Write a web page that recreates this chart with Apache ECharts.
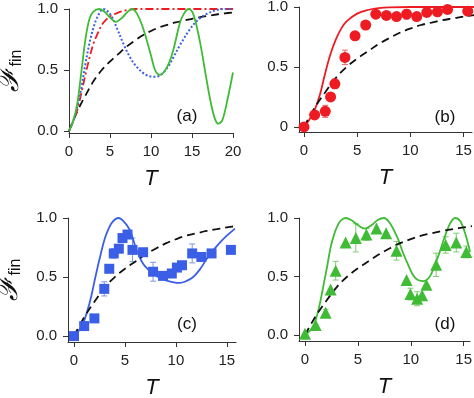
<!DOCTYPE html>
<html>
<head>
<meta charset="utf-8">
<script src="https://cdn.jsdelivr.net/npm/echarts@6/dist/echarts.min.js"></script>
<style>
html, body { margin: 0; padding: 0; background: #fff; }
#chart { width: 474px; height: 398px; }
</style>
</head>
<body>
<div id="chart"></div>
<script>
// ---- data ----
// reference dashed curve (same in every panel)
var dashT = [0, 1, 2, 3, 4, 5, 6, 7, 8, 9, 10, 11, 12, 13, 14, 15, 16, 17, 18, 19, 20];
var dashF = [0, 0.16, 0.29, 0.41, 0.5, 0.57, 0.63, 0.69, 0.74, 0.785, 0.82, 0.85, 0.87, 0.89, 0.905, 0.92, 0.933, 0.945, 0.955, 0.964, 0.972];

// panel (a)
var redAT = [0, 0.5, 1, 1.5, 2, 2.5, 3, 3.5, 4, 4.5, 5, 6, 7, 8, 10, 12, 14, 16, 18, 20];
var redAF = [0, 0.08, 0.17, 0.31, 0.46, 0.6, 0.72, 0.8, 0.87, 0.91, 0.94, 0.97, 0.99, 1, 1, 1, 1, 1, 1, 1];
var blueAT = [0, 0.5, 1, 1.5, 2, 2.5, 3, 3.5, 4.2, 5, 5.8, 6.6, 7.4, 8.2, 9.4, 10.4, 11.2, 12, 12.7, 13.5, 14.7, 15.7, 16.8, 17.9, 19, 20];
var blueAF = [0, 0.08, 0.2, 0.35, 0.55, 0.72, 0.85, 0.94, 1.0, 0.96, 0.85, 0.72, 0.61, 0.53, 0.46, 0.445, 0.46, 0.52, 0.6, 0.7, 0.83, 0.91, 0.96, 0.99, 1.0, 1.0];
var greenAT = [0, 0.5, 1, 1.5, 2, 2.5, 3, 3.7, 4.3, 5, 5.7, 6.5, 7.2, 7.7, 8.3, 9, 10, 10.5, 11.1, 12, 12.7, 13.5, 14, 14.6, 15.2, 16, 16.7, 17.3, 17.8, 18.2, 18.7, 19.3, 20];
var greenAF = [0, 0.08, 0.22, 0.48, 0.75, 0.92, 0.98, 1.0, 0.98, 0.93, 0.895, 0.93, 0.98, 1.0, 0.96, 0.85, 0.62, 0.5, 0.46, 0.53, 0.66, 0.88, 0.96, 1.0, 0.95, 0.72, 0.45, 0.23, 0.1, 0.06, 0.09, 0.25, 0.48];

// panel (b)
var lineBT = [0, 0.5, 1, 1.5, 2, 2.5, 3, 3.5, 4, 5, 6, 7, 8, 10, 12, 14, 16];
var lineBF = [0, 0.06, 0.14, 0.27, 0.45, 0.61, 0.73, 0.82, 0.88, 0.945, 0.975, 0.99, 0.997, 1, 1, 1, 1];
var dotBT = [0, 1, 2, 2.5, 2.9, 3.85, 4.8, 5.8, 6.75, 7.75, 8.7, 9.65, 10.6, 11.55, 12.55, 13.5, 15.4];
var dotBF = [0, 0.1, 0.13, 0.25, 0.36, 0.58, 0.76, 0.85, 0.94, 0.93, 0.92, 0.94, 0.92, 0.955, 0.96, 0.98, 0.965];
var dotBErr = [0, 0, 0.05, 0.03, 0.04, 0.06, 0, 0, 0, 0, 0, 0.04, 0, 0, 0, 0, 0];

// panel (c)
var lineCT = [0, 0.5, 0.9, 1.3, 1.7, 2.1, 2.5, 3, 3.4, 3.8, 4.35, 4.9, 5.5, 6.1, 6.8, 7.8, 8.5, 9.1, 9.8, 10.4, 11, 11.7, 12.4, 13, 13.7, 14.3, 15, 15.8];
var lineCF = [0, 0.05, 0.11, 0.21, 0.34, 0.5, 0.65, 0.82, 0.91, 0.97, 1.0, 0.97, 0.895, 0.74, 0.61, 0.525, 0.49, 0.47, 0.455, 0.45, 0.465, 0.5, 0.57, 0.65, 0.73, 0.79, 0.85, 0.91];
var sqCT = [0, 1, 2, 2.97, 3.46, 3.9, 4.4, 4.76, 5.25, 5.74, 6.78, 7.76, 8.74, 9.6, 10.1, 10.6, 11.6, 12.5, 13.5, 15.4];
var sqCF = [0, 0.085, 0.15, 0.4, 0.57, 0.7, 0.74, 0.83, 0.86, 0.73, 0.71, 0.545, 0.51, 0.53, 0.58, 0.6, 0.7, 0.67, 0.7, 0.73];
var sqCErr = [0, 0, 0, 0.06, 0, 0.04, 0, 0, 0.03, 0.1, 0, 0.08, 0, 0, 0, 0, 0.08, 0, 0, 0];

// panel (d)
var lineDT = [0, 0.5, 0.85, 1.2, 1.5, 1.8, 2.1, 2.4, 2.75, 3.1, 3.4, 3.84, 4.4, 5, 5.66, 6.3, 6.9, 7.45, 8, 8.7, 9.2, 9.65, 10.4, 11.2, 11.8, 12.2, 12.7, 13.1, 13.7, 14.2, 14.7, 15.2, 15.6];
var lineDF = [0, 0.04, 0.09, 0.19, 0.31, 0.45, 0.59, 0.74, 0.86, 0.94, 0.98, 1.0, 0.98, 0.94, 0.91, 0.94, 0.985, 1.0, 0.96, 0.84, 0.72, 0.62, 0.49, 0.46, 0.5, 0.58, 0.7, 0.81, 0.95, 1.0, 0.97, 0.85, 0.71];
var triDT = [0, 1, 1.95, 2.42, 2.9, 3.84, 4.8, 5.8, 6.76, 7.67, 8.65, 9.6, 9.97, 10.6, 11.07, 11.48, 12.4, 13.3, 14.3, 15.25];
var triDF = [0.01, 0.085, 0.19, 0.39, 0.55, 0.79, 0.83, 0.86, 0.91, 0.87, 0.72, 0.47, 0.35, 0.31, 0.34, 0.43, 0.6, 0.77, 0.79, 0.71];
var triDErr = [0, 0, 0.03, 0, 0.08, 0, 0.12, 0.05, 0, 0, 0.08, 0, 0.05, 0.06, 0, 0, 0.1, 0.07, 0.08, 0.05];

var xTicksA = [0, 5, 10, 15, 20];
var xTicks = [0, 5, 10, 15];
var yTicks = [0, 0.5, 1];
var panelNames = ['(a)', '(b)', '(c)', '(d)'];

// colours
var RED = '#ee1c22', BLUE = '#3a5fe6', GREEN = '#3fbb35', BLACK = '#111';

function zip(xs, ys) {
	var out = [];
	for (var i = 0; i < xs.length; i++) out.push([xs[i], ys[i]]);
	return out;
}
function zip3(xs, ys, es) {
	var out = [];
	for (var i = 0; i < xs.length; i++) out.push([xs[i], ys[i], es[i]]);
	return out;
}

var FONT = 'Liberation Sans';
var grids = [
	{ left: 69, top: 9, width: 164, height: 124 },
	{ left: 299, top: 7, width: 173, height: 125 },
	{ left: 68, top: 218, width: 168, height: 124 },
	{ left: 299, top: 218, width: 171, height: 123 }
];
grids.forEach(function (g) { g.outerBoundsMode = 'none'; g.containLabel = false; });
var xRange = [[0, 20], [-0.47, 15.8], [-0.59, 15.9], [-0.57, 15.6]];
var yRange = [[-0.016, 1], [-0.042, 1], [-0.05, 1], [-0.051, 1]];

var xAxes = [], yAxes = [];
for (var i = 0; i < 4; i++) {
	var xt = i === 0 ? xTicksA : xTicks;
	xAxes.push({
		type: 'value', gridIndex: i, min: xRange[i][0], max: xRange[i][1],
		name: 'T', nameLocation: 'middle', nameGap: 35,
		nameTextStyle: { fontFamily: FONT, fontStyle: 'italic', fontSize: 22, color: '#111' },
		axisLine: { show: true, onZero: false, lineStyle: { color: '#333', width: 1 } },
		axisTick: { show: true, customValues: xt, length: 5, lineStyle: { color: '#333' } },
		axisLabel: { customValues: xt, margin: 11, fontFamily: FONT, fontSize: 15, color: '#222' },
		splitLine: { show: false }
	});
	var left = (i % 2 === 0);
	yAxes.push({
		type: 'value', gridIndex: i, min: yRange[i][0], max: yRange[i][1],
		name: left ? '{f|ℱ}{s|fin}' : '', nameLocation: 'middle', nameGap: 44,
		nameTextStyle: {
			rich: {
				f: { fontFamily: 'DejaVu Serif', fontSize: 30, fontStyle: 'italic', color: '#111' },
				s: { fontFamily: FONT, fontSize: 16, color: '#111', padding: [14, 0, 0, 1] }
			}
		},
		axisLine: { show: true, onZero: false, lineStyle: { color: '#333', width: 1 } },
		axisTick: { show: true, customValues: yTicks, length: 5, lineStyle: { color: '#333' } },
		axisLabel: {
			customValues: yTicks, margin: 11, fontFamily: FONT, fontSize: 15, color: '#222',
			formatter: function (v) { return v.toFixed(1); }
		},
		splitLine: { show: false }
	});
}
// panel (b) shows "0" instead of "0.0"
yAxes[1].axisLabel.formatter = function (v) { return v === 0 ? '0' : v.toFixed(1); };

function curve(idx, xs, ys, color, type, width) {
	return {
		type: 'line', xAxisIndex: idx, yAxisIndex: idx, data: zip(xs, ys),
		showSymbol: false, smooth: 0.35, silent: true, clip: true,
		lineStyle: { color: color, width: width || 1.8, type: type || 'solid' }
	};
}
function dashed(idx) {
	return curve(idx, dashT, dashF, BLACK, [8, 5], 1.8);
}
function errorBars(idx, xs, ys, es, color) {
	return {
		type: 'custom', xAxisIndex: idx, yAxisIndex: idx, silent: true, z: 3,
		data: zip3(xs, ys, es),
		renderItem: function (params, api) {
			var x = api.value(0), y = api.value(1), e = api.value(2);
			if (!e) return null;
			var hi = api.coord([x, y + e]), lo = api.coord([x, y - e]);
			var w = 3, st = { stroke: color, lineWidth: 1 };
			return {
				type: 'group', children: [
					{ type: 'line', shape: { x1: hi[0], y1: hi[1], x2: lo[0], y2: lo[1] }, style: st },
					{ type: 'line', shape: { x1: hi[0] - w, y1: hi[1], x2: hi[0] + w, y2: hi[1] }, style: st },
					{ type: 'line', shape: { x1: lo[0] - w, y1: lo[1], x2: lo[0] + w, y2: lo[1] }, style: st }
				]
			};
		}
	};
}
function markers(idx, xs, ys, color, symbol, size) {
	return {
		type: 'scatter', xAxisIndex: idx, yAxisIndex: idx, data: zip(xs, ys),
		symbol: symbol, symbolSize: size, silent: true, z: 4,
		itemStyle: { color: color, opacity: 1 }
	};
}

var series = [
	dashed(0),
	curve(0, redAT, redAF, RED, [8, 3, 2, 3], 1.8),
	curve(0, blueAT, blueAF, BLUE, [2, 2], 2),
	curve(0, greenAT, greenAF, GREEN, 'solid', 1.8),

	curve(1, lineBT, lineBF, RED, 'solid', 1.8),
	dashed(1),
	errorBars(1, dotBT, dotBF, dotBErr, '#e86a6a'),
	markers(1, dotBT, dotBF, RED, 'circle', 11),

	curve(2, lineCT, lineCF, BLUE, 'solid', 1.8),
	dashed(2),
	errorBars(2, sqCT, sqCF, sqCErr, '#7d95e8'),
	markers(2, sqCT, sqCF, BLUE, 'rect', 10),

	curve(3, lineDT, lineDF, GREEN, 'solid', 1.8),
	dashed(3),
	errorBars(3, triDT, triDF, triDErr, '#7fcc72'),
	markers(3, triDT, triDF, GREEN, 'triangle', 12)
];

var labelPos = [[187, 116], [445, 117], [187, 324], [445, 324]];
var graphic = [];
for (var k = 0; k < 4; k++) {
	graphic.push({
		type: 'text', x: labelPos[k][0], y: labelPos[k][1],
		style: { text: panelNames[k], fontFamily: FONT, fontSize: 17, fill: '#111', align: 'center', verticalAlign: 'middle' }
	});
}

var chart = echarts.init(document.getElementById('chart'), null, { renderer: 'canvas' });
chart.setOption({
	animation: false,
	backgroundColor: '#fff',
	grid: grids,
	xAxis: xAxes,
	yAxis: yAxes,
	series: series,
	graphic: graphic
});
</script>
</body>
</html>
